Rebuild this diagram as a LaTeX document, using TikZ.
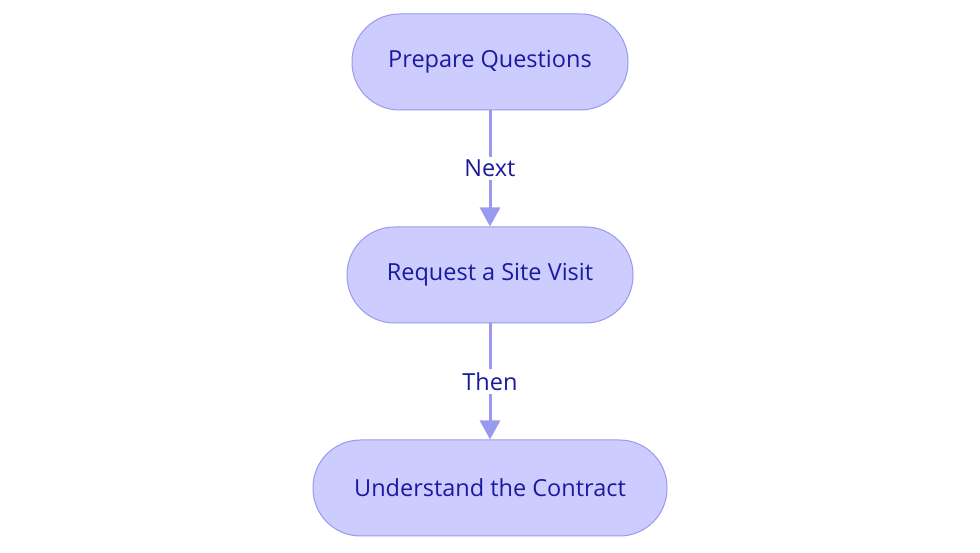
\documentclass[tikz,border=0pt]{standalone}
\usepackage{fontspec}
\setmainfont{Open Sans}
\usetikzlibrary{arrows.meta}
\definecolor{krokFill}{HTML}{CCCCFF}
\definecolor{krokBorder}{HTML}{9999EE}
\definecolor{krokText}{HTML}{1A1AA0}
\begin{document}
\begin{tikzpicture}[x=1pt, y=1pt, >={Triangle[width=20pt,length=19pt]},
    font=\fontsize{23.5}{27}\selectfont,
    krok/.style={draw=krokBorder, fill=krokFill, line width=1pt, text=krokText,
        rectangle, rounded corners=47.5pt, minimum height=96pt, inner sep=0pt},
    sipka/.style={->, draw=krokBorder, line width=3pt},
    popis/.style={fill=white, text=krokText, inner sep=3pt}]

    % Ramec
    \useasboundingbox (0,0) rectangle (980,553);

    % Kroky
    \node[krok, minimum width=276pt] (otazky) at (490,491) {Prepare Questions};
    \node[krok, minimum width=286pt] (navsteva) at (490,278) {Request a Site Visit};
    \node[krok, minimum width=354pt] (smlouva) at (490,65) {Understand the Contract};

    % Sipky s popisky
    \draw[sipka] (otazky) -- (navsteva) node[midway, popis] {Next};
    \draw[sipka] (navsteva) -- (smlouva) node[midway, popis] {Then};

\end{tikzpicture}
\end{document}
